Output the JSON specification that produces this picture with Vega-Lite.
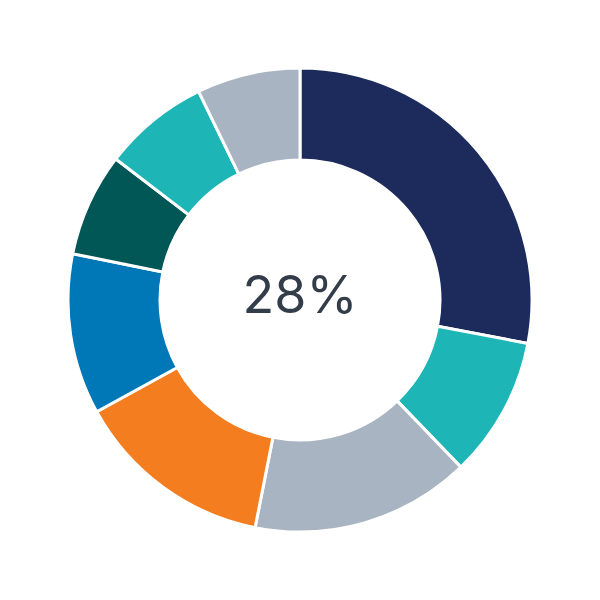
{
  "$schema": "https://vega.github.io/schema/vega-lite/v6.json",
  "width": 600,
  "height": 600,
  "autosize": {"type": "fit", "contains": "padding"},
  "background": "white",
  "config": {"view": {"stroke": "transparent"}},
  "data": {
    "values": [
      {"segment": "A", "order": 1, "share": 28},
      {"segment": "B", "order": 2, "share": 9.8},
      {"segment": "C", "order": 3, "share": 15.3},
      {"segment": "D", "order": 4, "share": 13.9},
      {"segment": "E", "order": 5, "share": 11.2},
      {"segment": "F", "order": 6, "share": 7.2},
      {"segment": "G", "order": 7, "share": 7.4},
      {"segment": "H", "order": 8, "share": 7.2}
    ]
  },
  "layer": [
    {
      "mark": {"type": "arc", "outerRadius": 232, "innerRadius": 140, "stroke": "white", "strokeWidth": 3},
      "encoding": {
        "theta": {"field": "share", "type": "quantitative", "stack": true},
        "order": {"field": "order", "type": "quantitative"},
        "color": {
          "field": "segment",
          "type": "nominal",
          "legend": null,
          "scale": {
            "domain": ["A", "B", "C", "D", "E", "F", "G", "H"],
            "range": ["#1C2A5C", "#1DB5B6", "#A9B4C2", "#F47D20", "#0077B6", "#015656", "#1DB5B6", "#A9B4C2"]
          }
        }
      }
    },
    {
      "transform": [{"filter": "datum.order == 1"}],
      "mark": {"type": "text", "font": "Inter", "fontSize": 52, "fontWeight": 400, "color": "#333D4A", "align": "center", "baseline": "middle", "dy": -3},
      "encoding": {
        "text": {"value": "28%"}
      }
    }
  ]
}
